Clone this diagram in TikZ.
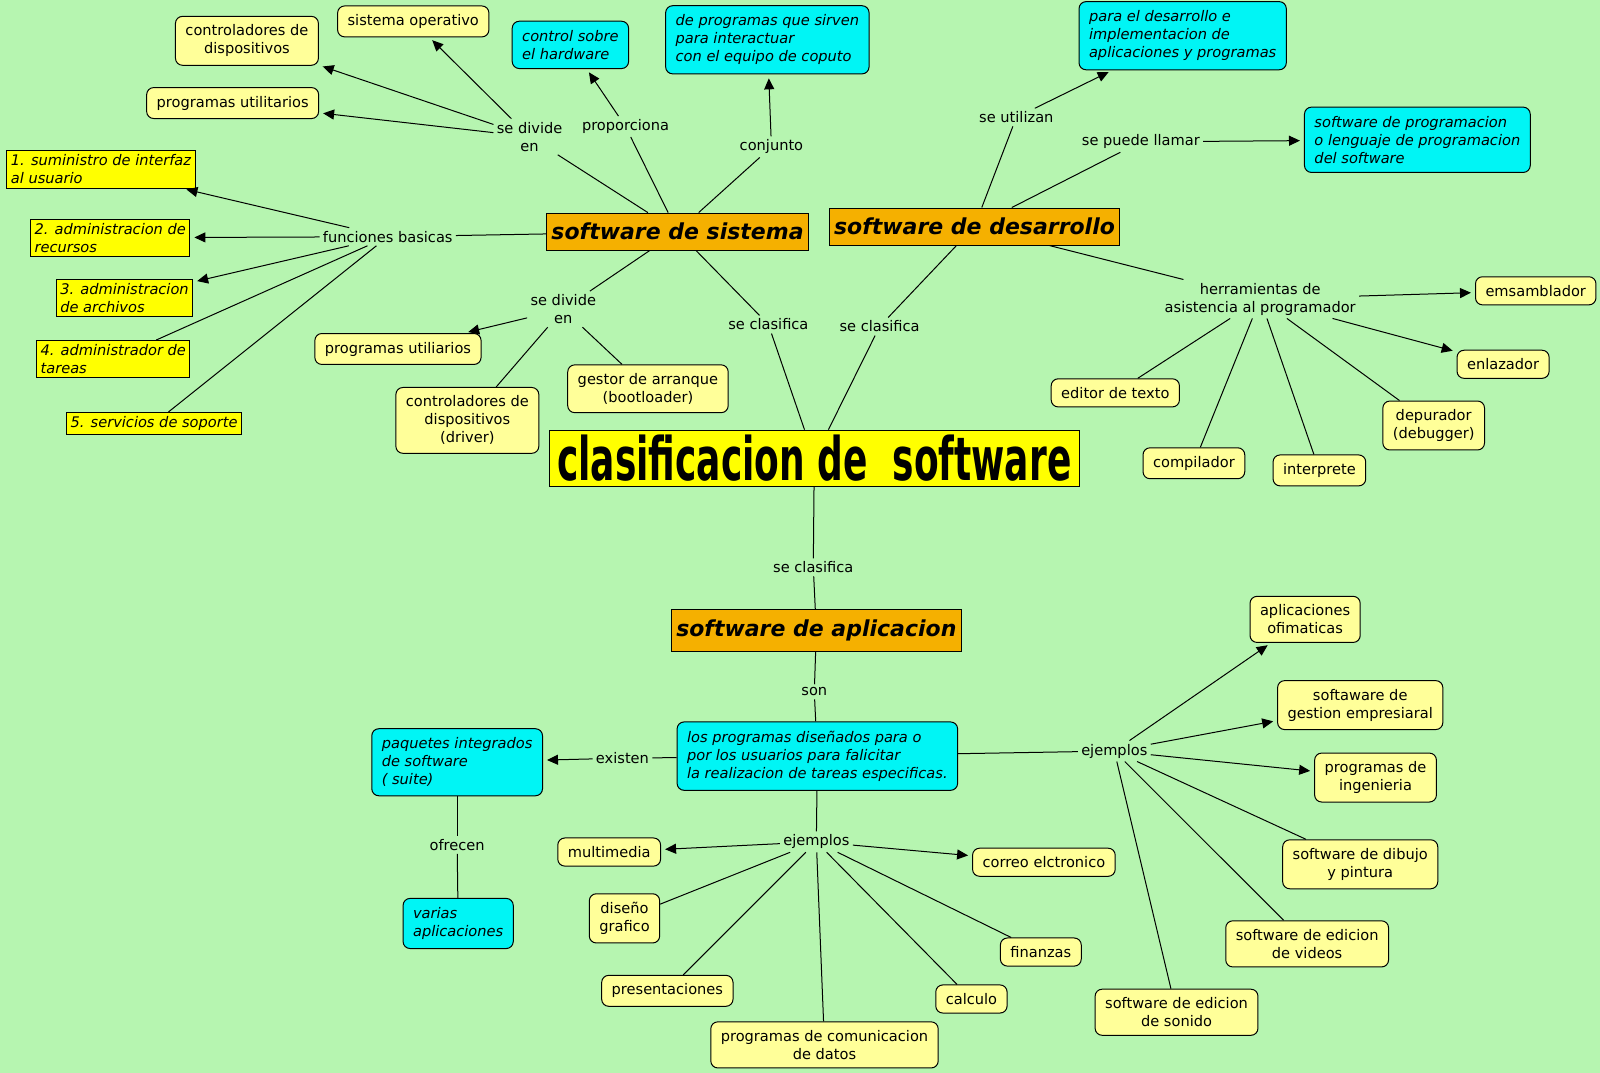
\documentclass[tikz,border=0pt]{standalone}
\usepackage{fontspec}
\setmainfont{DejaVu Sans}
\newfontfamily\condfont{DejaVu Sans Condensed}
\usetikzlibrary{arrows.meta}
\definecolor{bg}{HTML}{B6F5B0}
\definecolor{ylw}{HTML}{FFFF99}
\definecolor{cyn}{HTML}{00F5F5}
\definecolor{org}{HTML}{F5B000}
\definecolor{byl}{HTML}{FFFF00}
\begin{document}
\begin{tikzpicture}[x=0.5102pt,y=-0.5102pt,
  every node/.style={font=\fontsize{7.3}{9}\selectfont},
  cpt/.style={draw,fill=ylw,rounded corners=3.5pt,align=center,inner xsep=5pt,inner ysep=4.2pt,line width=0.5pt},
  cyb/.style={draw,fill=cyn,rounded corners=3.5pt,align=left,inner xsep=5pt,inner ysep=4.5pt,font=\fontsize{7.3}{9}\selectfont\itshape,line width=0.5pt},
  byb/.style={draw,fill=byl,align=left,inner xsep=2pt,inner ysep=2pt,font=\fontsize{7.3}{9}\selectfont\itshape,line width=0.5pt},
  orb/.style={draw,fill=org,inner xsep=2.5pt,inner ysep=5pt,font=\fontsize{11}{12}\selectfont\bfseries\itshape,line width=0.5pt},
  lp/.style={align=center,inner sep=1.5pt},
  ln/.style={draw,line width=0.5pt},
  ar/.style={draw,line width=0.5pt,-{Triangle[length=5.5pt,width=5pt]},shorten >=2pt}]
\fill[bg] (0,0) rectangle (1568,1051.5);
\useasboundingbox (0,0) rectangle (1568,1051.5);
% main
\node[draw,fill=byl,minimum width=265pt,minimum height=28pt,line width=0.5pt,inner sep=0pt] (title) at (798,449)
  {\scalebox{1}[1.5]{\condfont\bfseries\fontsize{20}{21}\selectfont clasificacion de\ \ software}};
\node[orb] (sis) at (664,227) {software de sistema};
\node[orb] (des) at (955,222) {software de desarrollo};
\node[orb] (apl) at (800,618) {software de aplicacion};
% system
\node[lp] (sd1) at (519,134) {se divide\\en};
\node[lp] (prop) at (613,124) {proporciona};
\node[lp] (conj) at (756,144) {conjunto};
\node[lp] (fb) at (380,232) {funciones basicas};
\node[lp] (sd2) at (552,303) {se divide\\en};
\node[lp] (sc1) at (753,318) {se clasifica};
\node[lp] (sc2) at (862,320) {se clasifica};
\node[cpt] (ctrl1) at (242,40) {controladores de\\dispositivos};
\node[cpt] (so) at (405,21) {sistema operativo};
\node[cpt] (pu1) at (228,101) {programas utilitarios};
\node[cyb] (hw) at (559,44) {control sobre\\el hardware};
\node[cyb] (prg) at (752,39) {de programas que sirven\\para interactuar\\con el equipo de coputo};
\node[byb] (f1) at (99,166) {1. suministro de interfaz\\al usuario};
\node[byb] (f2) at (108,233) {2. administracion de\\recursos};
\node[byb] (f3) at (122,292) {3. administracion\\de archivos};
\node[byb] (f4) at (111,352) {4. administrador de\\tareas};
\node[byb] (f5) at (151,415) {5. servicios de soporte};
\node[cpt] (pu2) at (390,342) {programas utiliarios};
\node[cpt] (ctrl2) at (458,412) {controladores de\\dispositivos\\(driver)};
\node[cpt] (gest) at (635,381) {gestor de arranque\\(bootloader)};
% desarrollo
\node[lp] (su) at (996,115) {se utilizan};
\node[lp] (spl) at (1118,139) {se puede llamar};
\node[lp] (herr) at (1235,293) {herramientas de\\asistencia al programador};
\node[cyb] (pdes) at (1159,35) {para el desarrollo e\\implementacion de\\aplicaciones y programas};
\node[cyb] (sprog) at (1389,137) {software de programacion\\o lenguaje de programacion\\del software};
\node[cpt] (ens) at (1505,285) {emsamblador};
\node[cpt] (enl) at (1473,357) {enlazador};
\node[cpt] (dep) at (1405,417) {depurador\\(debugger)};
\node[cpt] (edt) at (1093,385) {editor de texto};
\node[cpt] (comp) at (1170,454) {compilador};
\node[cpt] (intp) at (1293,461) {interprete};
% aplicacion
\node[lp] (sc3) at (797,556) {se clasifica};
\node[lp] (son) at (798,678) {son};
\node[lp] (exi) at (610,743) {existen};
\node[lp] (ofr) at (448,828) {ofrecen};
\node[lp] (ej1) at (800,825) {ejemplos};
\node[lp] (ej2) at (1092,736) {ejemplos};
\node[cyb] (lpd) at (801,741) {los programas diseñados para o\\por los usuarios para falicitar\\la realizacion de tareas especificas.};
\node[cyb] (paq) at (448,747) {paquetes integrados\\de software\\( suite)\hspace{6pt}};
\node[cyb] (var) at (449,905) {varias\\aplicaciones};
\node[cpt] (ofi) at (1279,607) {aplicaciones\\ofimaticas};
\node[cpt] (gem) at (1333,691) {softaware de\\gestion empresiaral};
\node[cpt] (ing) at (1348,762) {programas de\\ingenieria};
\node[cpt] (dib) at (1333,847) {software de dibujo\\y pintura};
\node[cpt] (vid) at (1281,925) {software de edicion\\de videos};
\node[cpt] (son2) at (1153,992) {software de edicion\\de sonido};
\node[cpt] (mult) at (597,835) {multimedia};
\node[cpt] (corr) at (1023,845) {correo elctronico};
\node[cpt] (dis) at (612,900) {diseño\\grafico};
\node[cpt] (fin) at (1020,933) {finanzas};
\node[cpt] (pres) at (654,971) {presentaciones};
\node[cpt] (calc) at (952,979) {calculo};
\node[cpt] (pcd) at (808,1024) {programas de comunicacion\\de datos};
% connectors system
\draw[ln] (sis) -- (sd1);
\draw[ar] (sd1) -- (ctrl1);
\draw[ar] (sd1) -- (so);
\draw[ar] (sd1) -- (pu1);
\draw[ln] (sis) -- (prop);
\draw[ar] (prop) -- (hw);
\draw[ln] (sis) -- (conj);
\draw[ar] (conj) -- (prg);
\draw[ln] (sis) -- (fb);
\draw[ar] (fb) -- (f1);
\draw[ar] (fb) -- (f2);
\draw[ar] (fb) -- (f3);
\draw[ln] (fb) -- (f4);
\draw[ln] (fb) -- (f5);
\draw[ln] (sis) -- (sd2);
\draw[ar] (sd2) -- (pu2);
\draw[ln] (sd2) -- (ctrl2);
\draw[ln] (sd2) -- (gest);
\draw[ln] (sis) -- (sc1);
\draw[ln] (sc1) -- (title);
\draw[ln] (des) -- (sc2);
\draw[ln] (sc2) -- (title);
% desarrollo
\draw[ln] (des) -- (su);
\draw[ar] (su) -- (pdes);
\draw[ln] (des) -- (spl);
\draw[ar] (spl) -- (sprog);
\draw[ln] (des) -- (herr);
\draw[ar] (herr) -- (ens);
\draw[ar] (herr) -- (enl);
\draw[ln] (herr) -- (dep);
\draw[ln] (herr) -- (intp);
\draw[ln] (herr) -- (comp);
\draw[ln] (herr) -- (edt);
% aplicacion
\draw[ln] (title) -- (sc3);
\draw[ln] (sc3) -- (apl);
\draw[ln] (apl) -- (son);
\draw[ln] (son) -- (lpd);
\draw[ln] (lpd) -- (exi);
\draw[ar] (exi) -- (paq);
\draw[ln] (paq) -- (ofr);
\draw[ln] (ofr) -- (var);
\draw[ln] (lpd) -- (ej1);
\draw[ar] (ej1) -- (mult);
\draw[ar] (ej1) -- (corr);
\draw[ln] (ej1) -- (dis);
\draw[ln] (ej1) -- (fin);
\draw[ln] (ej1) -- (pres);
\draw[ln] (ej1) -- (calc);
\draw[ln] (ej1) -- (pcd);
\draw[ln] (lpd) -- (ej2);
\draw[ar] (ej2) -- (ofi);
\draw[ar] (ej2) -- (gem);
\draw[ar] (ej2) -- (ing);
\draw[ln] (ej2) -- (dib);
\draw[ln] (ej2) -- (vid);
\draw[ln] (ej2) -- (son2);
\end{tikzpicture}
\end{document}
